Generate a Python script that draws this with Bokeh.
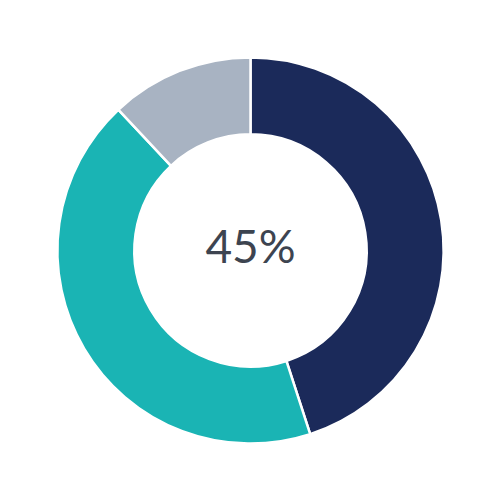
from math import pi

from bokeh.core.properties import value
from bokeh.embed import file_html
from bokeh.models import ColumnDataSource
from bokeh.plotting import figure
from bokeh.resources import INLINE

labels = ["Navy", "Teal", "Grey"]
shares = [45, 43, 12]
colors = ["#1b2a5a", "#1ab4b4", "#a8b3c2"]
center_label = "45%"

# clockwise from 12 o'clock
starts, ends = [], []
acc = 0
for s in shares:
    starts.append(pi / 2 - acc / 100 * 2 * pi)
    acc += s
    ends.append(pi / 2 - acc / 100 * 2 * pi)

source = ColumnDataSource(data=dict(label=labels, share=shares, color=colors,
                                    start=starts, end=ends))

# 242 px per unit, ring centre placed at (250, 250) px
p = figure(width=484, height=484, x_range=(-250 / 242, 234 / 242),
           y_range=(-234 / 242, 250 / 242),
           output_backend="svg", toolbar_location=None, min_border=0)
p.axis.visible = False
p.grid.visible = False
p.outline_line_color = None

p.annular_wedge(x=0, y=0, inner_radius=0.48, outer_radius=0.798,
                start_angle="start", end_angle="end", direction="clock",
                fill_color="color", line_color="white", line_width=2.5,
                source=source)

p.text(x=[0], y=[0.02], text=[center_label], text_font=value("Lato"),
       text_font_size="46px", text_color="#3d4450",
       text_align="center", text_baseline="middle")

open("out.html", "w").write(file_html(p, INLINE))
